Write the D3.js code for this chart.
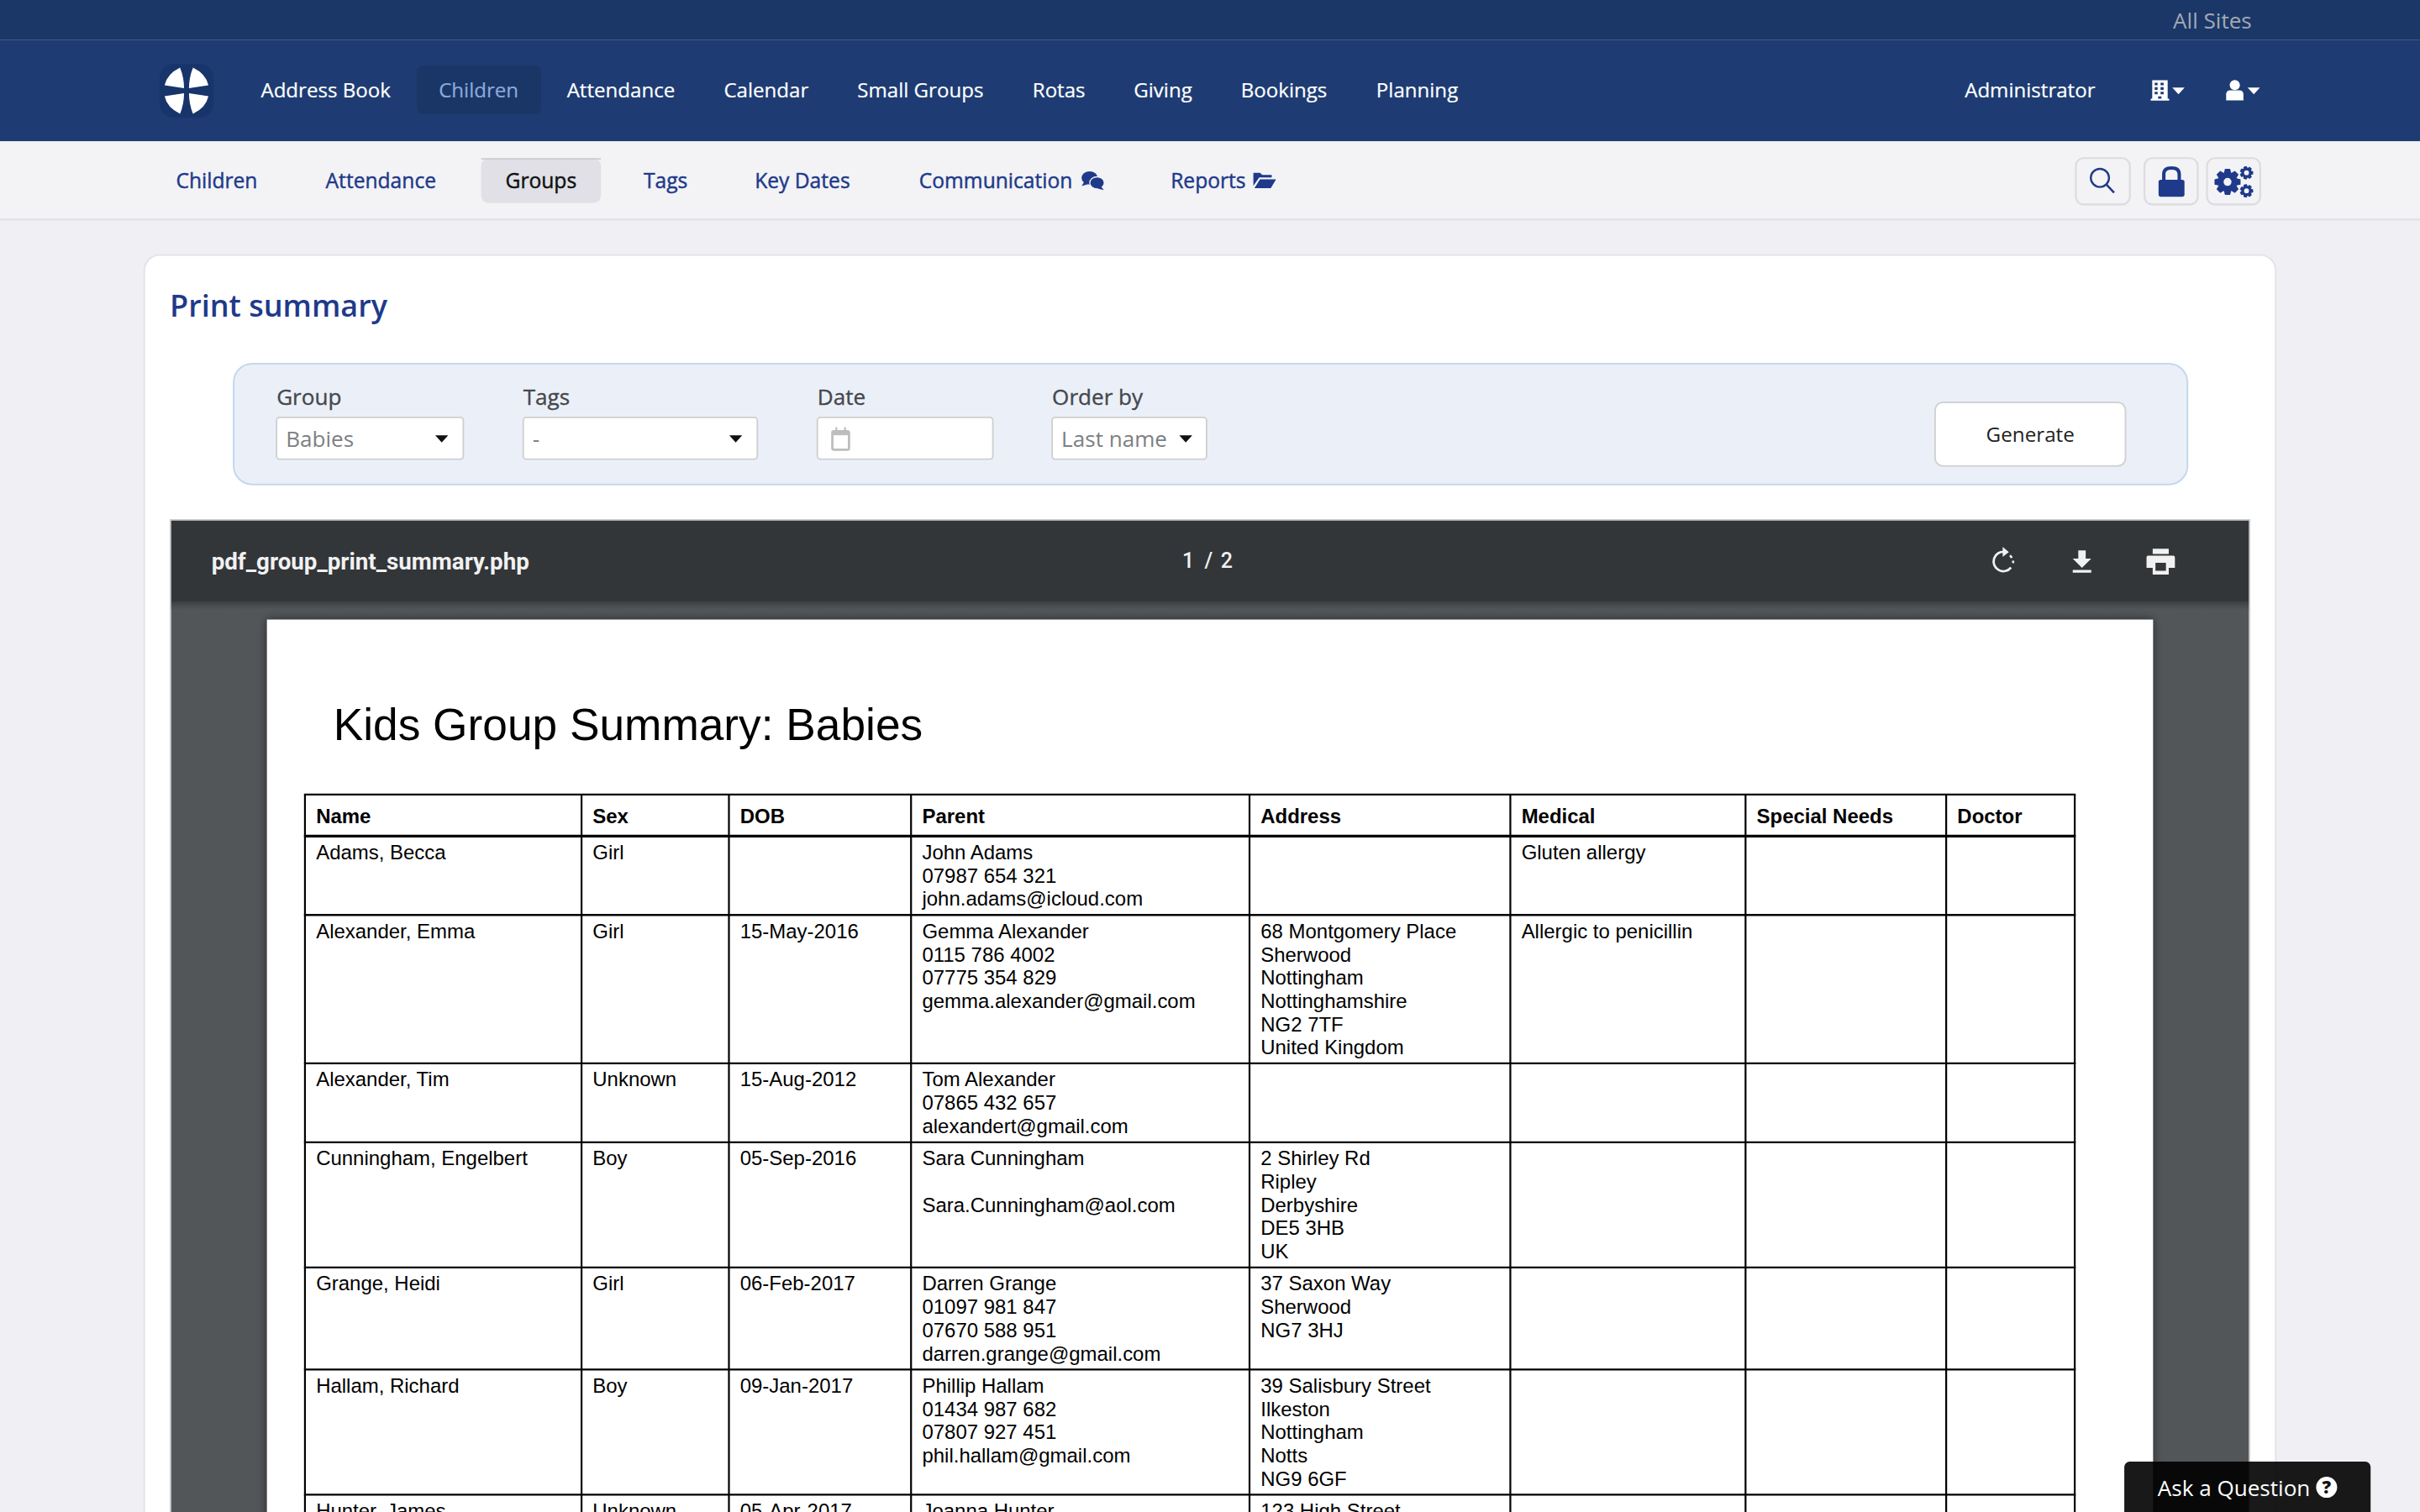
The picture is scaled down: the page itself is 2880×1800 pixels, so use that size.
<!DOCTYPE html>
<html>
<head>
<meta charset="utf-8">
<style>
html, body { margin: 0; padding: 0; background: #efeff4; overflow: hidden; }
svg { display: block; }
</style>
<script src="https://cdn.jsdelivr.net/npm/d3@7"></script>
</head>
<body>
<svg id="page"></svg>
<script>
// the picture is laid out in 1568 wide units, viewBox scales it up to 2880
const navItems = ['Address Book', 'Children', 'Attendance', 'Calendar', 'Small Groups', 'Rotas', 'Giving', 'Bookings', 'Planning'];
const subItems = ['Children', 'Attendance', 'Groups', 'Tags', 'Key Dates', 'Communication', 'Reports'];
const filterLabels = ['Group', 'Tags', 'Date', 'Order by'];
const filterValues = ['Babies', '-', '', 'Last name'];

const columns = ['Name', 'Sex', 'DOB', 'Parent', 'Address', 'Medical', 'Special Needs', 'Doctor'];
const names = ['Adams, Becca', 'Alexander, Emma', 'Alexander, Tim', 'Cunningham, Engelbert', 'Grange, Heidi', 'Hallam, Richard', 'Hunter, James'];
const sexes = ['Girl', 'Girl', 'Unknown', 'Boy', 'Girl', 'Boy', 'Unknown'];
const dobs = ['', '15-May-2016', '15-Aug-2012', '05-Sep-2016', '06-Feb-2017', '09-Jan-2017', '05-Apr-2017'];
const parents = [
  ['John Adams', '07987 654 321', 'john.adams@icloud.com'],
  ['Gemma Alexander', '0115 786 4002', '07775 354 829', 'gemma.alexander@gmail.com'],
  ['Tom Alexander', '07865 432 657', 'alexandert@gmail.com'],
  ['Sara Cunningham', '', 'Sara.Cunningham@aol.com'],
  ['Darren Grange', '01097 981 847', '07670 588 951', 'darren.grange@gmail.com'],
  ['Phillip Hallam', '01434 987 682', '07807 927 451', 'phil.hallam@gmail.com'],
  ['Joanna Hunter']
];
const addresses = [
  [],
  ['68 Montgomery Place', 'Sherwood', 'Nottingham', 'Nottinghamshire', 'NG2 7TF', 'United Kingdom'],
  [],
  ['2 Shirley Rd', 'Ripley', 'Derbyshire', 'DE5 3HB', 'UK'],
  ['37 Saxon Way', 'Sherwood', 'NG7 3HJ'],
  ['39 Salisbury Street', 'Ilkeston', 'Nottingham', 'Notts', 'NG9 6GF'],
  ['123 High Street']
];
const medicals = ['Gluten allergy', 'Allergic to penicillin', '', '', '', '', ''];

const W = 1568, H = 980;
const navFont = '"Open Sans", sans-serif';
const docFont = '"Liberation Sans", Arial, sans-serif';
const blue = '#1f3a8a';

const svg = d3.select('#page')
  .attr('width', 2880).attr('height', 1800)
  .attr('viewBox', `0 0 ${W} ${H}`);

const defs = svg.append('defs');
const blur = defs.append('filter').attr('id', 'soft').attr('x', '-5%').attr('y', '-5%').attr('width', '110%').attr('height', '110%');
blur.append('feDropShadow').attr('dx', 0).attr('dy', 0).attr('stdDeviation', 3).attr('flood-color', '#000').attr('flood-opacity', 0.55);
defs.append('clipPath').attr('id', 'screen').append('rect').attr('width', W).attr('height', H);
const fade = defs.append('linearGradient').attr('id', 'barShade').attr('x1', 0).attr('y1', 0).attr('x2', 0).attr('y2', 1);
fade.append('stop').attr('offset', 0).attr('stop-color', '#3d4043');
fade.append('stop').attr('offset', 1).attr('stop-color', '#525659');

function box(x0, y0, x1, y1, fill, stroke, r, sw) {
  return svg.append('rect')
    .attr('x', x0).attr('y', y0).attr('width', x1 - x0).attr('height', y1 - y0)
    .attr('rx', r || 0)
    .style('fill', fill)
    .style('stroke', stroke || 'none')
    .style('stroke-width', sw || 1);
}

function label(x, y, text, size, color, weight, family, anchor) {
  return svg.append('text')
    .attr('x', x).attr('y', y)
    .attr('text-anchor', anchor || 'start')
    .style('font-family', family || navFont)
    .style('font-size', size + 'px')
    .style('font-weight', weight || 400)
    .style('fill', color)
    .text(text);
}

// thin outline to get the heavier look of the original font smoothing
function thicken(sel, color, w) {
  return sel.style('stroke', color).style('stroke-width', w);
}

// icons are drawn around their own centre
function icon(x, y, k) {
  return svg.append('g').attr('transform', `translate(${x},${y}) scale(${k || 1})`);
}

function gearPath(r, teeth, holeRatio) {
  const pts = [];
  for (let i = 0; i < teeth; i++) {
    const a = (i / teeth) * 2 * Math.PI, w = Math.PI / teeth;
    [[0.74, -w * 0.95], [1, -w * 0.5], [1, w * 0.5], [0.74, w * 0.95]].forEach(p => {
      pts.push([Math.cos(a + p[1]) * r * p[0], Math.sin(a + p[1]) * r * p[0]]);
    });
  }
  const hole = r * holeRatio;
  return d3.line()(pts) + 'Z' +
    `M${hole},0A${hole},${hole} 0 1,0 ${-hole},0A${hole},${hole} 0 1,0 ${hole},0Z`;
}

function caret(x, y, w, color) {
  svg.append('path')
    .attr('d', `M${x - w},${y - w * 0.55}L${x + w},${y - w * 0.55}L${x},${y + w * 0.55}Z`)
    .style('fill', color);
}

// top bars
box(0, 0, W, 26, '#1a3768');
box(0, 26, W, 91.6, '#1e3c73');
box(0, 91.6, W, 141.6, '#f3f3f6');
box(0, 141.6, W, 143, '#e2e2e8');
label(1459, 18.5, 'All Sites', 14.2, '#a3a8b2', 400, navFont, 'end');

// logo
box(103.4, 41.4, 138.3, 76.2, '#17346b', null, 9);
const logo = icon(120.85, 58.8);
[[1, 1], [-1, 1], [1, -1], [-1, -1]].forEach(s => {
  logo.append('path')
    .attr('transform', `scale(${s[0]},${s[1]})`)
    .attr('d', 'M1.6,1.6L14.2,3.6Q12.6,11 4.2,15Q1.6,8.5 1.6,1.6Z')
    .style('fill', '#fff');
});

// main nav
const navX = d3.scaleOrdinal(navItems, [169, 284.3, 367.3, 469, 555.5, 669, 734.6, 804, 891.7]);
box(270, 42.5, 350.6, 74, '#1a3666', null, 4);
navItems.forEach(d => {
  const c = d === 'Children' ? '#8aa9dd' : '#fff';
  thicken(label(navX(d), 63.3, d, 13.12, c), c, 0.12);
});
thicken(label(1273, 63.3, 'Administrator', 13.12, '#fff'), '#fff', 0.12);

// building icon
const bld = icon(1399.5, 58.5);
bld.append('path')
  .attr('d', 'M-5,-6.5H5V5.5H6V6.7H-6V5.5H-5Z M-3.4,-4.9V-3.2H-1.5V-4.9Z M0.4,-4.9V-3.2H2.4V-4.9Z M-3.4,-2V-0.3H-1.5V-2Z M0.4,-2V-0.3H2.4V-2Z M-3.4,1V2.6H-1.5V1Z M0.4,1V2.6H2.4V1Z M-1.2,4V5.5H1V4Z')
  .attr('fill-rule', 'evenodd').style('fill', '#fff');
caret(1411.5, 58.9, 4, '#fff');
// user icon
const usr = icon(1448, 58.5);
usr.append('circle').attr('cy', -3.4).attr('r', 3.3).style('fill', '#fff');
usr.append('path').attr('d', 'M-5.6,6.5V2.6Q-5.6,0 -2.8,0H2.8Q5.6,0 5.6,2.6V6.5Z').style('fill', '#fff');
caret(1460.3, 58.9, 4, '#fff');

// sub nav
const subX = d3.scaleOrdinal(subItems, [114, 211, 327.5, 417, 489, 595.5, 758.5]);
box(311.7, 102.5, 389.4, 131.6, '#e0e0e6', null, 5);
box(311.7, 102.5, 389.4, 103.4, '#ccccd3', null, 0.4);
subItems.forEach(d => {
  const c = d === 'Groups' ? '#111' : blue;
  thicken(label(subX(d), 122, d, 13.4, c), c, 0.25);
});

// speech bubbles after Communication
const chat = icon(708, 117);
chat.append('ellipse').attr('cx', -2).attr('cy', -1.7).attr('rx', 5.2).attr('ry', 4.3).style('fill', blue);
chat.append('path').attr('d', 'M-5.6,1L-7.2,3.6L-3,2.4Z').style('fill', blue);
chat.append('ellipse').attr('cx', 2.8).attr('cy', 1.5).attr('rx', 4.7).attr('ry', 3.9).style('fill', blue).style('stroke', '#f3f3f6').style('stroke-width', 0.7);
chat.append('path').attr('d', 'M5.2,3.6L7.2,6.2L3.2,5.2Z').style('fill', blue);

// folder after Reports
const folder = icon(819.4, 117);
folder.append('path')
  .attr('d', 'M-7.3,3.4V-5H-3L-1.5,-3.6H4.6V-2H-3.5Z M-3,-0.8H7.4L4,5H-6.6Z')
  .style('fill', blue);

// right hand tool buttons
box(1345, 102.5, 1380, 132.5, '#f3f3f6', '#dcdce0', 5, 1.2);
box(1389.5, 102.5, 1424, 132.5, '#f3f3f6', '#dcdce0', 5, 1.2);
box(1430, 102.5, 1464.5, 132.5, '#f3f3f6', '#dcdce0', 5, 1.2);

const mag = icon(1361, 116);
mag.append('circle').attr('r', 5.9).attr('cx', -0.4).attr('cy', -0.7).style('fill', 'none').style('stroke', blue).style('stroke-width', 1.3);
mag.append('line').attr('x1', 3.8).attr('y1', 3.6).attr('x2', 8.8).attr('y2', 8.9).style('stroke', blue).style('stroke-width', 1.4);

const lock = icon(1407, 117.5);
lock.append('rect').attr('x', -8.4).attr('y', -1).attr('width', 16.8).attr('height', 11).attr('rx', 1.5).style('fill', blue);
lock.append('path').attr('d', 'M-5,-0.5V-4.6Q-5,-8.6 0,-8.6Q5,-8.6 5,-4.6V-0.5').style('fill', 'none').style('stroke', blue).style('stroke-width', 2.2);

icon(1443.3, 117.9).append('path').attr('d', gearPath(8.6, 8, 0.3)).attr('fill-rule', 'evenodd').style('fill', blue);
icon(1455.6, 112).append('path').attr('d', gearPath(4.4, 7, 0.36)).attr('fill-rule', 'evenodd').style('fill', blue);
icon(1455.6, 123.7).append('path').attr('d', gearPath(4.4, 7, 0.36)).attr('fill-rule', 'evenodd').style('fill', blue);

// white panel, runs off the bottom
box(93.5, 165.3, 1474.5, H + 30, '#fff', '#e2e2e8', 10, 1);
label(110, 205, 'Print summary', 19.6, blue, 600);

// filter box
box(151.4, 235.8, 1417.3, 314, '#ebf0f8', '#c6d7ec', 12, 1.1);
const filterX = d3.scaleOrdinal(filterLabels, [179.2, 339, 529.6, 681.7]);
const filterEnd = d3.scaleOrdinal(filterLabels, [300.2, 490.7, 643.3, 781.8]);
filterLabels.forEach((d, i) => {
  const x0 = filterX(d), x1 = filterEnd(d);
  thicken(label(x0, 262.5, d, 14.2, '#45484d'), '#45484d', 0.2);
  box(x0, 270.5, x1, 297.6, '#fff', '#cfcfcf', 2, 1);
  label(x0 + 6, 289.8, filterValues[i], 14.2, '#7d7f83');
  if (d !== 'Date') caret(x1 - (d === 'Order by' ? 13.5 : 14), 284.5, 4.2, '#111');
});
// calendar glyph in the date field
const cal = icon(544.7, 284.5);
cal.append('rect').attr('x', -5.4).attr('y', -5).attr('width', 10.8).attr('height', 12).attr('rx', 1).style('fill', 'none').style('stroke', '#bdbdbd').style('stroke-width', 1.5);
cal.append('rect').attr('x', -5.4).attr('y', -5).attr('width', 10.8).attr('height', 2.6).style('fill', '#bdbdbd');
cal.append('rect').attr('x', -3.4).attr('y', -7.6).attr('width', 1.2).attr('height', 3).style('fill', '#bdbdbd');
cal.append('rect').attr('x', 2.2).attr('y', -7.6).attr('width', 1.2).attr('height', 3).style('fill', '#bdbdbd');

box(1253.8, 260.8, 1377.2, 302, '#fff', '#d2d2d2', 5, 1.1);
label(1315.5, 286.5, 'Generate', 13.2, '#222', 400, navFont, 'middle');

// pdf viewer
box(110.5, 337, 1457.5, H + 30, '#525659', '#c8c8c8', 0, 1);
box(173, 401.6, 1395, H + 30, '#fff').attr('filter', 'url(#soft)');
box(111, 390, 1457, 395, 'url(#barShade)');
box(111, 337.5, 1457, 390, '#323639');
label(137, 369, 'pdf_group_print_summary.php', 15.1, '#f1f1f1', 700, '"Roboto", sans-serif');
label(766, 368, '1', 13.6, '#f1f1f1', 500, '"Roboto", sans-serif');
label(780.5, 368, '/', 13.6, '#f1f1f1', 500, '"Roboto", sans-serif');
label(791, 368, '2', 13.6, '#f1f1f1', 500, '"Roboto", sans-serif');

// viewer icons
const rot = icon(1298, 364);
rot.append('path').attr('d', 'M1,-6.3A6.3,6.3 0 1,0 5,3.8').style('fill', 'none').style('stroke', '#f1f1f1').style('stroke-width', 1.5);
rot.append('path').attr('d', 'M-0.4,-9.6L3.6,-6.1L-0.4,-3Z').style('fill', '#f1f1f1');
rot.append('path').attr('d', 'M4.3,-4A6.3,6.3 0 0,1 6.4,1').style('fill', 'none').style('stroke', '#f1f1f1').style('stroke-width', 1.4).style('stroke-dasharray', '2 2');
const dl = icon(1349, 364);
dl.append('path').attr('d', 'M-2.4,-7.2H2.4V-2H6L0,4L-6,-2H-2.4Z M-6,5.4H6V7.2H-6Z').style('fill', '#f1f1f1');
const prn = icon(1400, 364);
prn.append('path').attr('fill-rule', 'evenodd')
  .attr('d', 'M-5.2,-8.4H5.2V-5H-5.2Z M-8.2,-3.8H8.2Q9.2,-3.8 9.2,-2.6V4H5.2V8.4H-5.2V4H-9.2V-2.6Q-9.2,-3.8 -8.2,-3.8Z M-3.4,0.8V6H3.4V0.8Z')
  .style('fill', '#f1f1f1');

// pdf page content
label(216, 479.5, 'Kids Group Summary: Babies', 29, '#000', 400, docFont);

const colEdges = [197.6, 376.8, 472.3, 590.3, 809.6, 978.6, 1131, 1261];
const tableRight = 1344.3;
const colX = d3.scaleOrdinal(columns, colEdges);
const lineStep = 15.08;
const headTop = 515, headBottom = 541.9;

const rowLines = names.map((d, i) => Math.max(parents[i].length, addresses[i].length, 1));
// row height grows by one text line, plus the fixed cell padding
const rowHeight = d3.scaleLinear().domain([0, 1]).range([6.15, 21.15]);
const rowTops = [headBottom].concat(Array.from(d3.cumsum(rowLines, n => rowHeight(n))).map(d => d + headBottom));

const tableBottom = H + 30;
const grid = svg.append('g').attr('clip-path', 'url(#screen)');

grid.selectAll('line.col')
  .data(colEdges.concat([tableRight]))
  .join('line')
  .attr('class', 'col')
  .attr('x1', d => d).attr('x2', d => d)
  .attr('y1', headTop).attr('y2', tableBottom)
  .style('stroke', '#000').style('stroke-width', 1.2);

grid.selectAll('line.row')
  .data([headTop].concat(rowTops))
  .join('line')
  .attr('class', 'row')
  .attr('x1', colEdges[0] - 0.6).attr('x2', tableRight + 0.6)
  .attr('y1', d => d).attr('y2', d => d)
  .style('stroke', '#000').style('stroke-width', (d, i) => i === 1 ? 1.7 : 1.3);

const cellPad = 7.2;
columns.forEach(c => {
  label(colX(c) + cellPad, 533.6, c, 13.05, '#000', 700, docFont);
});

function cell(col, rowIndex, lines) {
  lines.forEach((t, j) => {
    label(colX(col) + cellPad, rowTops[rowIndex] + 15 + j * lineStep, t, 13.05, '#000', 400, docFont);
  });
}
names.forEach((d, i) => {
  cell('Name', i, [d]);
  cell('Sex', i, [sexes[i]]);
  cell('DOB', i, [dobs[i]]);
  cell('Parent', i, parents[i]);
  cell('Address', i, addresses[i]);
  cell('Medical', i, [medicals[i]]);
});

// help tab, on top of everything
svg.append('path')
  .attr('d', `M1376.4,${H}V951A3.5,3.5 0 0 1 1380,947.4H1532.5A3.5,3.5 0 0 1 1536,951V${H}Z`)
  .style('fill', '#000').style('fill-opacity', 0.9);
label(1398, 969.5, 'Ask a Question', 14.2, '#fff');
const help = icon(1507.5, 964);
help.append('circle').attr('r', 6.8).style('fill', '#fff');
help.append('text').attr('text-anchor', 'middle').attr('y', 4.2)
  .style('font-family', navFont).style('font-size', '11.5px').style('font-weight', 800).style('fill', '#111').text('?');
</script>
</body>
</html>
